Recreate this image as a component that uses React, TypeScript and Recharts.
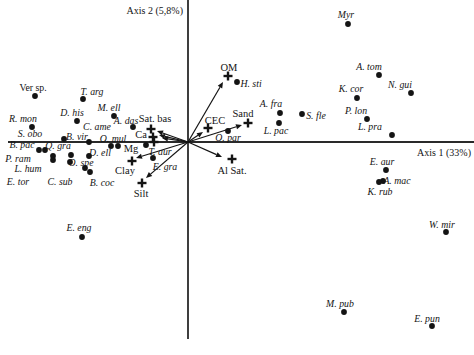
import React from "react";
import { ReferenceLine, Scatter, ScatterChart, XAxis, YAxis } from "recharts";

// species scores (x, y) and where their label sits (lx, ly)
const species = [
  { name: "Ver sp.", x: -1.53, y: 0.46, lx: -1.55, ly: 0.54 },
  { name: "R. mon", x: -1.56, y: 0.15, lx: -1.65, ly: 0.23 },
  { name: "T. arg", x: -1.05, y: 0.43, lx: -0.96, ly: 0.5 },
  { name: "D. his", x: -1.11, y: 0.21, lx: -1.16, ly: 0.29 },
  { name: "M. ell", x: -0.74, y: 0.26, lx: -0.79, ly: 0.34 },
  { name: "A. das", x: -0.55, y: 0.15, lx: -0.62, ly: 0.21 },
  { name: "C. ame", x: -0.99, y: 0.0, lx: -0.91, ly: 0.15 },
  { name: "B. vir", x: -1.24, y: 0.03, lx: -1.11, ly: 0.05 },
  { name: "O. mul", x: -0.77, y: -0.04, lx: -0.75, ly: 0.03 },
  { name: "S. obo", x: -1.49, y: -0.08, lx: -1.58, ly: 0.08 },
  { name: "B. pac", x: -1.43, y: -0.08, lx: -1.66, ly: -0.03 },
  { name: "Q. gra", x: -1.17, y: -0.13, lx: -1.3, ly: -0.04 },
  { name: "P. ram", x: -1.35, y: -0.14, lx: -1.7, ly: -0.17 },
  { name: "L. hum", x: -1.35, y: -0.18, lx: -1.6, ly: -0.27 },
  { name: "C. sub", x: -1.18, y: -0.2, lx: -1.28, ly: -0.4 },
  { name: "E. tor", x: -0.7, y: -0.04, lx: -1.7, ly: -0.4 },
  { name: "D. ell", x: -0.99, y: -0.14, lx: -0.88, ly: -0.11 },
  { name: "O. spe", x: -1.03, y: -0.26, lx: -1.07, ly: -0.21 },
  { name: "B. coc", x: -0.98, y: -0.3, lx: -0.86, ly: -0.41 },
  { name: "T. aur", x: -0.35, y: -0.16, lx: -0.28, ly: -0.1 },
  { name: "E. gra", x: -0.42, y: -0.03, lx: -0.23, ly: -0.25 },
  { name: "E. eng", x: -1.06, y: -0.95, lx: -1.09, ly: -0.86 },
  { name: "H. sti", x: 0.49, y: 0.6, lx: 0.63, ly: 0.58 },
  { name: "O. par", x: 0.4, y: 0.11, lx: 0.4, ly: 0.04 },
  { name: "A. fra", x: 0.92, y: 0.29, lx: 0.83, ly: 0.38 },
  { name: "L. pac", x: 0.91, y: 0.19, lx: 0.88, ly: 0.11 },
  { name: "S. fle", x: 1.14, y: 0.28, lx: 1.28, ly: 0.26 },
  { name: "Myr", x: 1.6, y: 1.18, lx: 1.58, ly: 1.27 },
  { name: "A. tom", x: 1.91, y: 0.67, lx: 1.81, ly: 0.75 },
  { name: "N. gui", x: 2.23, y: 0.49, lx: 2.12, ly: 0.57 },
  { name: "K. cor", x: 1.69, y: 0.44, lx: 1.63, ly: 0.53 },
  { name: "P. lon", x: 1.79, y: 0.23, lx: 1.68, ly: 0.31 },
  { name: "L. pra", x: 2.04, y: 0.07, lx: 1.82, ly: 0.15 },
  { name: "E. aur", x: 1.98, y: -0.28, lx: 1.94, ly: -0.2 },
  { name: "A. mac", x: 1.95, y: -0.39, lx: 2.09, ly: -0.39 },
  { name: "K. rub", x: 1.91, y: -0.4, lx: 1.92, ly: -0.5 },
  { name: "W. mir", x: 2.58, y: -0.9, lx: 2.54, ly: -0.83 },
  { name: "M. pub", x: 1.56, y: -1.7, lx: 1.52, ly: -1.62 },
  { name: "E. pun", x: 2.44, y: -1.84, lx: 2.39, ly: -1.77 },
];

// soil variables: cross position, arrow tip (ax, ay), label position
const variables = [
  { name: "OM", x: 0.4, y: 0.66, ax: 0.35, ay: 0.6, lx: 0.41, ly: 0.75 },
  { name: "CEC", x: 0.2, y: 0.14, ax: 0.15, ay: 0.1, lx: 0.27, ly: 0.22 },
  { name: "Sand", x: 0.6, y: 0.19, ax: 0.54, ay: 0.17, lx: 0.55, ly: 0.29 },
  { name: "Al Sat.", x: 0.44, y: -0.17, ax: 0.34, ay: -0.15, lx: 0.44, ly: -0.28 },
  { name: "Clay", x: -0.56, y: -0.19, ax: -0.52, ay: -0.16, lx: -0.63, ly: -0.28 },
  { name: "Silt", x: -0.46, y: -0.41, ax: -0.42, ay: -0.36, lx: -0.47, ly: -0.51 },
  { name: "Sat. bas", x: -0.37, y: 0.13, ax: -0.31, ay: 0.11, lx: -0.33, ly: 0.24 },
  { name: "Ca", x: -0.35, y: 0.05, ax: -0.29, ay: 0.07, lx: -0.47, ly: 0.08 },
  { name: "Mg", x: -0.34, y: 0.0, ax: -0.26, ay: 0.04, lx: -0.57, ly: -0.06 },
];

const axisTitles = [
  { name: "Axis 2 (5,8%)", x: -0.05, y: 1.32 },
  { name: "Axis 1 (33%)", x: 2.83, y: -0.1 },
];

const ink = "#141414";
const font = "'Liberation Serif', 'DejaVu Serif', serif";

const speciesLabels = species.map((s) => ({ x: s.lx, y: s.ly, name: s.name }));
const varLabels = variables.map((v) => ({ x: v.lx, y: v.ly, name: v.name }));

const Dot = (p: any) => <circle cx={p.cx} cy={p.cy} r={2.9} fill={ink} />;

const Cross = (p: any) => (
  <g stroke={ink} strokeWidth={2.4}>
    <line x1={p.cx - 4.5} y1={p.cy} x2={p.cx + 4.5} y2={p.cy} />
    <line x1={p.cx} y1={p.cy - 4.5} x2={p.cx} y2={p.cy + 4.5} />
  </g>
);

const SpeciesText = (p: any) => (
  <text
    x={p.cx}
    y={p.cy}
    dy="0.35em"
    textAnchor="middle"
    fontFamily={font}
    fontSize={9.8}
    fontStyle={p.payload.name === "Ver sp." ? "normal" : "italic"}
    fill={ink}
  >
    {p.payload.name}
  </text>
);

const VarText = (p: any) => (
  <text x={p.cx} y={p.cy} dy="0.35em" textAnchor="middle" fontFamily={font} fontSize={10.5} fill={ink}>
    {p.payload.name}
  </text>
);

const TitleText = (p: any) => (
  <text x={p.cx} y={p.cy} dy="0.35em" textAnchor="end" fontFamily={font} fontSize={10} fill={ink}>
    {p.payload.name}
  </text>
);

const Arrow = (p: any) => {
  const { x1, y1, x2, y2 } = p;
  const a = Math.atan2(y2 - y1, x2 - x1);
  const len = 6;
  const w = 2.6;
  const bx = x2 - len * Math.cos(a);
  const by = y2 - len * Math.sin(a);
  const pts = [
    [x2, y2],
    [bx + w * Math.sin(a), by - w * Math.cos(a)],
    [bx - w * Math.sin(a), by + w * Math.cos(a)],
  ]
    .map((q) => q.join(","))
    .join(" ");
  return (
    <g>
      <line x1={x1} y1={y1} x2={bx} y2={by} stroke={ink} strokeWidth={1.2} />
      <polygon points={pts} fill={ink} />
    </g>
  );
};

export default function App() {
  return (
    <div style={{ position: "absolute", left: 0, top: 0, background: "#fff" }}>
      <ScatterChart width={474} height={355} margin={{ top: 0, right: 0, bottom: 0, left: 0 }}>
        <XAxis type="number" dataKey="x" domain={[-1.88, 2.86]} hide allowDataOverflow />
        <YAxis type="number" dataKey="y" domain={[-2.13, 1.42]} hide allowDataOverflow />
        <ReferenceLine segment={[{ x: -1.8, y: 0 }, { x: 2.86, y: 0 }]} stroke="#2a2a2a" strokeWidth={1.8} />
        <ReferenceLine segment={[{ x: 0, y: 1.42 }, { x: 0, y: -1.97 }]} stroke="#2a2a2a" strokeWidth={1.8} />
        {variables.map((v) => (
          <ReferenceLine key={v.name} segment={[{ x: 0, y: 0 }, { x: v.ax, y: v.ay }]} shape={Arrow} />
        ))}
        <Scatter data={species} shape={Dot} isAnimationActive={false} />
        <Scatter data={variables} shape={Cross} isAnimationActive={false} />
        <Scatter data={speciesLabels} shape={SpeciesText} isAnimationActive={false} />
        <Scatter data={varLabels} shape={VarText} isAnimationActive={false} />
        <Scatter data={axisTitles} shape={TitleText} isAnimationActive={false} />
      </ScatterChart>
    </div>
  );
}
